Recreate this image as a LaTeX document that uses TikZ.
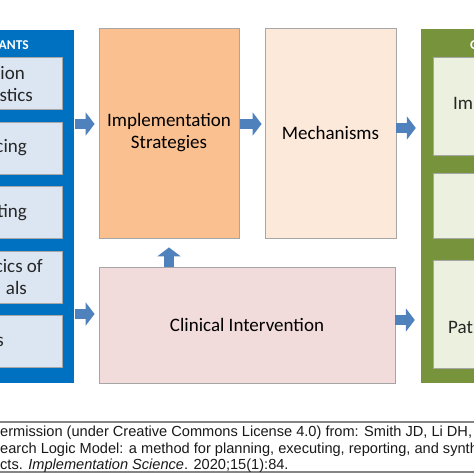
\documentclass[tikz,border=0pt]{standalone}
\usepackage{fontspec}
\setmainfont{Carlito}
\newfontfamily\capfont{Liberation Sans}
\usepackage{xcolor}
\usetikzlibrary{arrows.meta,positioning}

\definecolor{detblue}{HTML}{0070C0}
\definecolor{detfill}{HTML}{DCE6F2}
\definecolor{stratfill}{HTML}{FAC090}
\definecolor{mechfill}{HTML}{FDE9D9}
\definecolor{clinfill}{HTML}{F2DCDB}
\definecolor{outgreen}{HTML}{77933C}
\definecolor{outfill}{HTML}{EBF1DE}
\definecolor{arrblue}{HTML}{4F81BD}
\definecolor{boxgray}{HTML}{A6A6A6}

\begin{document}
\begin{tikzpicture}[
  x=1pt, y=1pt,
  font=\fontsize{19}{22}\selectfont,
  panel/.style ={inner sep=0pt, draw=none},
  box/.style   ={draw=boxgray, line width=0.8pt, inner sep=0pt, align=center},
  lbl/.style   ={inner sep=0pt, text=black!85},
  ptitle/.style={inner sep=0pt, text=white, font=\fontsize{13.5}{15}\selectfont\bfseries},
  captxt/.style={inner sep=0pt, align=left, text=black!90,
                 font=\capfont\fontsize{14.6}{16.5}\selectfont},
  blk/.style   ={-{Triangle[width=23pt, length=9pt]}, line width=10pt, draw=arrblue}
]
\clip (0,0) rectangle (474,-474);

% determinants (left, cut by the frame)
\node[panel, fill=detblue, minimum width=134, minimum height=353] (det) at (7,-206.5) {};
\node[ptitle, anchor=east] (dettitle) at (29,-45) {ANTS};
\node[box, fill=detfill, minimum width=112, minimum height=52] (d1) at (6,-83.5) {};
\node[box, fill=detfill, minimum width=112, minimum height=52] (d2) at (6,-148) {};
\node[box, fill=detfill, minimum width=112, minimum height=52] (d3) at (6,-212.5) {};
\node[box, fill=detfill, minimum width=112, minimum height=52] (d4) at (6,-277) {};
\node[box, fill=detfill, minimum width=112, minimum height=52] (d5) at (6,-341.5) {};
\node[lbl, anchor=east, align=right] (t1) at (33,-84) {ion\hspace*{8pt}\\stics};
\node[lbl, anchor=east] (t2) at (27,-148) {cing};
\node[lbl, anchor=east] (t3) at (27,-212.5) {ting};
\node[lbl, anchor=east, align=right] (t4) at (43,-277) {cics of\\als\hspace*{16pt}};
\node[lbl, anchor=east] (t5) at (4,-341.5) {s};

% middle
\node[box, fill=stratfill, minimum width=140, minimum height=210] (impl) at (169,-133)
  {Implementation\\Strategies};
\node[box, fill=mechfill, minimum width=131, minimum height=210] (mech) at (330.5,-133)
  {Mechanisms};
\node[box, fill=clinfill, minimum width=296, minimum height=116] (clin) at (247,-325)
  {Clinical Intervention};

% outcomes (right, cut by the frame)
\node[panel, fill=outgreen, minimum width=139, minimum height=354] (outc) at (490.5,-206) {};
\node[ptitle, anchor=west] (outtitle) at (470,-45) {O};
\node[box, fill=outfill, minimum width=112, minimum height=98] (o1) at (489,-106) {};
\node[box, fill=outfill, minimum width=112, minimum height=65] (o2) at (489,-205.5) {};
\node[box, fill=outfill, minimum width=112, minimum height=108] (o3) at (489,-314) {};
\node[lbl, anchor=west] (u1) at (453,-103) {Im};
\node[lbl, anchor=west] (u3) at (448,-327) {Pat};

% block arrows
\coordinate (r1) at ([yshift=9]impl.west);
\coordinate (r2) at ([yshift=5]outc.west |- mech.east);
\coordinate (r3) at ([yshift=11]clin.west);
\coordinate (r4) at ([yshift=5]clin.east);
\draw[blk, shorten <=1, shorten >=4] (det.east |- r1) -- (r1);
\draw[blk, shorten <=1, shorten >=3] (impl.east |- r1) -- (mech.west |- r1);
\draw[blk, shorten >=5] (mech.east |- r2) -- (r2);
\draw[blk, shorten <=1, shorten >=4] (det.east |- r3) -- (r3);
\draw[blk, shorten >=6] (r4) -- (outc.west |- r4);
\draw[blk, shorten >=9] (clin.north -| impl.south) -- (impl.south);

% source note
\draw[boxgray!80!black, line width=1.2pt] (0,-422) -- (474,-422);
\draw[boxgray!80!black, line width=1.2pt] (0,-472) -- (474,-472);
\node[captxt, anchor=north west] (cap) at (0,-426)
  {ermission (under Creative Commons License 4.0) from: Smith JD, Li DH,\\
   earch Logic Model: a method for planning, executing, reporting, and synth\\
   cts. \textit{Implementation Science}. 2020;15(1):84.};

\end{tikzpicture}
\end{document}
